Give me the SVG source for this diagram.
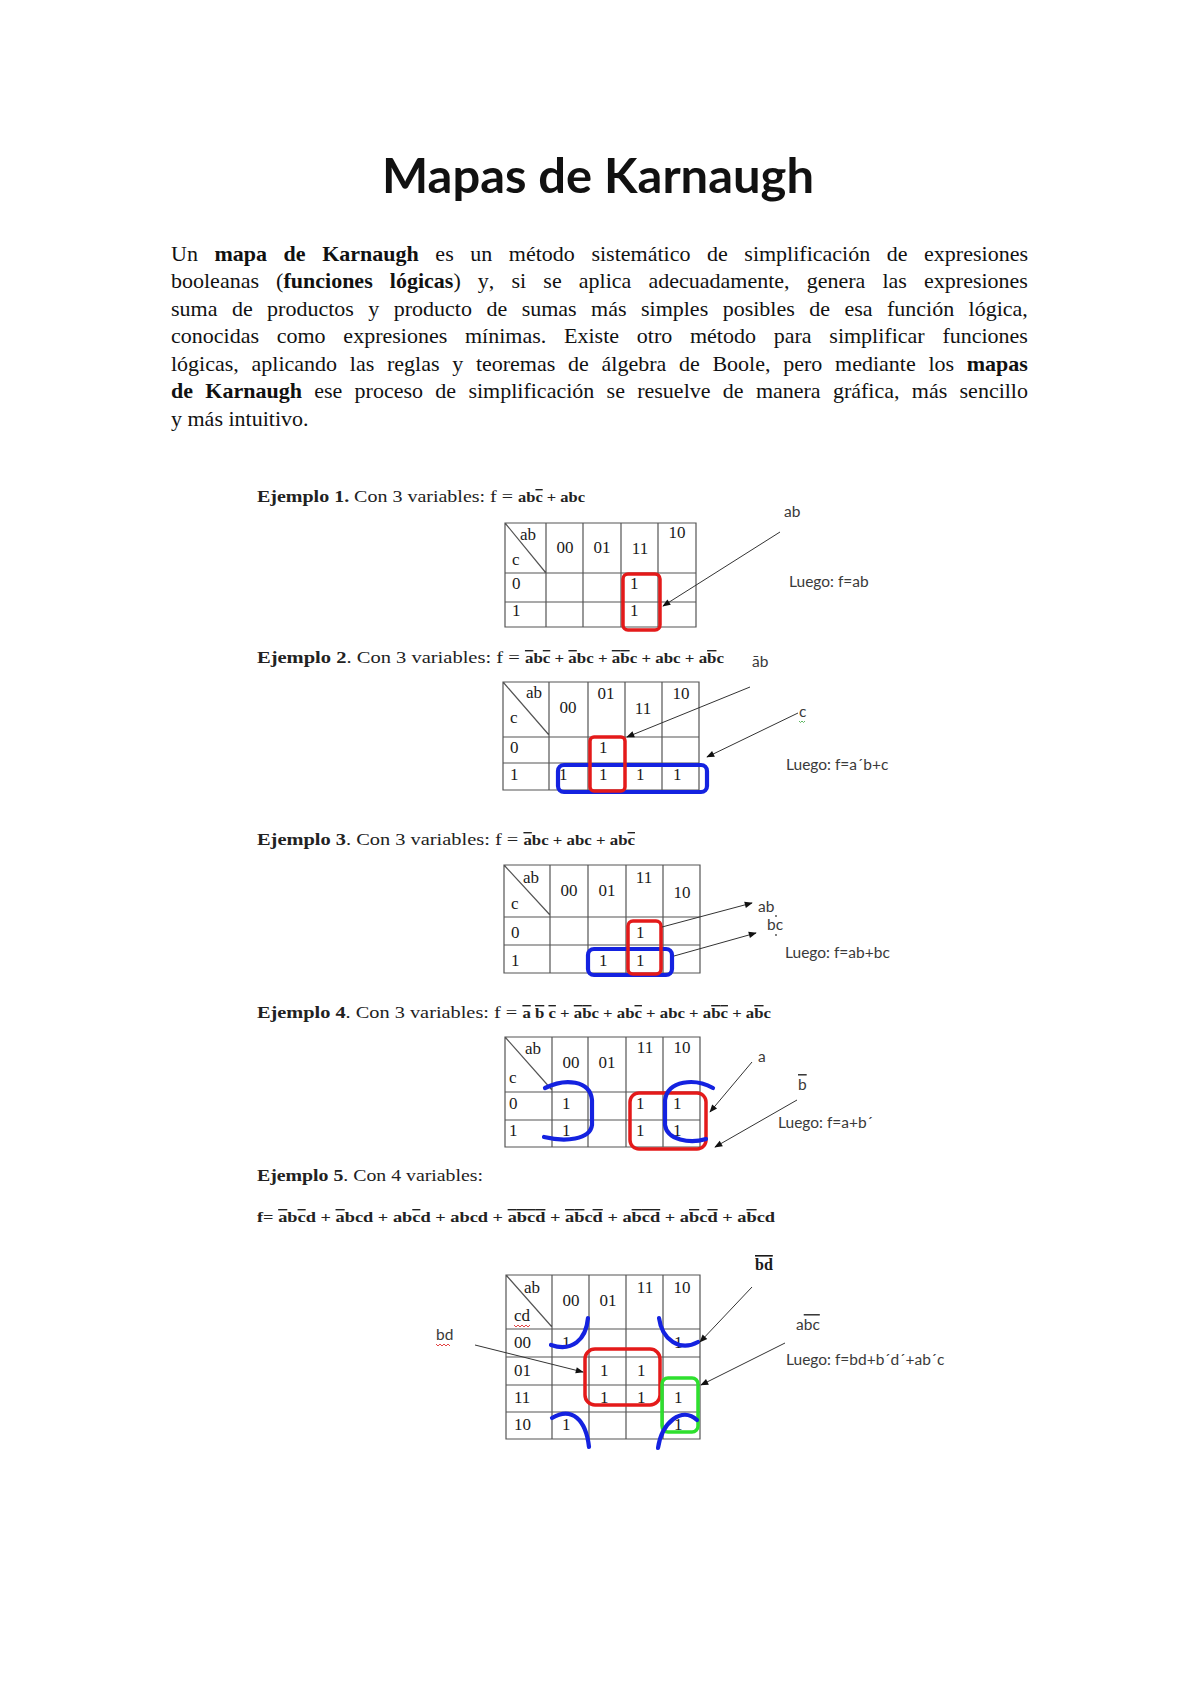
<svg xmlns="http://www.w3.org/2000/svg" width="1200" height="1698" viewBox="0 0 1200 1698">
<defs>
<style>
.p{font-family:"Liberation Serif","Times New Roman",serif;font-size:22px;fill:#111;font-kerning:none;font-variant-ligatures:none}
.b{font-weight:bold}
.h{font-family:"Liberation Serif","Times New Roman",serif;font-size:17px;fill:#222;font-kerning:none}
.fm{font-weight:bold;font-size:14px}
.ov{text-decoration:overline}
.t{font-family:"Liberation Serif","Times New Roman",serif;font-size:17px;fill:#1a1a1a}
.tm{text-anchor:middle}
.lb{font-family:Lato,"Open Sans",sans-serif;font-size:15.5px;fill:#3a3a3a}
.grid{stroke:#555;stroke-width:1.2;fill:none}
.red{fill:none;stroke:#e41a1a;stroke-width:3.5}
.blue{fill:none;stroke:#1422e0;stroke-width:4.2;stroke-linecap:round}
.green{fill:none;stroke:#2ee02e;stroke-width:3.5}
.arr{stroke:#333;stroke-width:1;fill:none;marker-end:url(#ah)}
.sq{fill:none;stroke-width:0.9}
</style>
<marker id="ah" viewBox="0 0 10 10" refX="9" refY="5" markerWidth="9" markerHeight="8" markerUnits="userSpaceOnUse" orient="auto"><path d="M0,1 L10,5 L0,9 z" fill="#111"/></marker>
</defs>
<rect width="1200" height="1698" fill="#fff"/>

<g id="title">
<text x="382" y="193" font-family="Lato,'Open Sans',sans-serif" font-weight="bold" font-size="48" fill="#111" textLength="432" lengthAdjust="spacingAndGlyphs">Mapas de Karnaugh</text>
</g>

<g id="intro">
<text class="p" x="171" y="261" word-spacing="11.08">Un <tspan class="b">mapa de Karnaugh</tspan> es un método sistemático de simplificación de expresiones</text>
<text class="p" x="171" y="288" word-spacing="11.65">booleanas (<tspan class="b">funciones lógicas</tspan>) y, si se aplica adecuadamente, genera las expresiones</text>
<text class="p" x="171" y="316" word-spacing="8.95">suma de productos y producto de sumas más simples posibles de esa función lógica,</text>
<text class="p" x="171" y="343" word-spacing="12.26">conocidas como expresiones mínimas. Existe otro método para simplificar funciones</text>
<text class="p" x="171" y="371" word-spacing="7.22">lógicas, aplicando las reglas y teoremas de álgebra de Boole, pero mediante los <tspan class="b">mapas</tspan></text>
<text class="p" x="171" y="398" word-spacing="6.81"><tspan class="b">de Karnaugh</tspan> ese proceso de simplificación se resuelve de manera gráfica, más sencillo</text>
<text class="p" x="171" y="426">y más intuitivo.</text>
</g>

<g id="ej1-heading">
<text class="h" x="257" y="502" textLength="328" lengthAdjust="spacingAndGlyphs"><tspan class="b">Ejemplo 1.</tspan> Con 3 variables: f = <tspan class="fm">ab<tspan class="ov">c</tspan> + abc</tspan></text>
</g>
<g id="ej2-heading">
<text class="h" x="257" y="663" textLength="467" lengthAdjust="spacingAndGlyphs"><tspan class="b">Ejemplo 2</tspan>. Con 3 variables: f = <tspan class="fm"><tspan class="ov">a</tspan>b<tspan class="ov">c</tspan> + <tspan class="ov">a</tspan>bc + <tspan class="ov">a</tspan><tspan class="ov">b</tspan>c + abc + a<tspan class="ov">b</tspan>c</tspan></text>
</g>
<g id="ej3-heading">
<text class="h" x="257" y="845" textLength="378" lengthAdjust="spacingAndGlyphs"><tspan class="b">Ejemplo 3</tspan>. Con 3 variables: f = <tspan class="fm"><tspan class="ov">a</tspan>bc + abc + ab<tspan class="ov">c</tspan></tspan></text>
</g>
<g id="ej4-heading">
<text class="h" x="257" y="1018" textLength="514" lengthAdjust="spacingAndGlyphs"><tspan class="b">Ejemplo 4</tspan>. Con 3 variables: f = <tspan class="fm"><tspan class="ov">a</tspan> <tspan class="ov">b</tspan> <tspan class="ov">c</tspan> + <tspan class="ov">a</tspan><tspan class="ov">b</tspan>c + ab<tspan class="ov">c</tspan> + abc + a<tspan class="ov">b</tspan><tspan class="ov">c</tspan> + a<tspan class="ov">b</tspan>c</tspan></text>
</g>
<g id="ej5-heading">
<text class="h" x="257" y="1181" textLength="226" lengthAdjust="spacingAndGlyphs"><tspan class="b">Ejemplo 5</tspan>. Con 4 variables:</text>
<text class="h fm" x="257" y="1222" textLength="518" lengthAdjust="spacingAndGlyphs">f= <tspan class="ov">a</tspan>b<tspan class="ov">c</tspan>d + <tspan class="ov">a</tspan>bcd + ab<tspan class="ov">c</tspan>d + abcd + <tspan class="ov">a</tspan><tspan class="ov">b</tspan><tspan class="ov">c</tspan><tspan class="ov">d</tspan> + <tspan class="ov">a</tspan><tspan class="ov">b</tspan>c<tspan class="ov">d</tspan> + a<tspan class="ov">b</tspan><tspan class="ov">c</tspan><tspan class="ov">d</tspan> + a<tspan class="ov">b</tspan>c<tspan class="ov">d</tspan> + a<tspan class="ov">b</tspan>cd</text>
</g>

<!-- Table 1 -->
<g id="kmap1">
<path class="grid" d="M505 523H696V627H505Z M546 523V627 M583 523V627 M621 523V627 M658 523V627 M505 573H696 M505 602H696 M505 523L546 573"/>
<text class="t" x="520" y="540">ab</text>
<text class="t" x="512" y="565">c</text>
<text class="t tm" x="565" y="553">00</text>
<text class="t tm" x="602" y="553">01</text>
<text class="t tm" x="640" y="554">11</text>
<text class="t tm" x="677" y="538">10</text>
<text class="t" x="512" y="589">0</text>
<text class="t" x="512" y="616">1</text>
<text class="t" x="630" y="589">1</text>
<text class="t" x="630" y="616">1</text>
<rect class="red" x="623" y="574" width="37" height="56" rx="5"/>
</g>

<!-- Table 2 -->
<g id="kmap2">
<path class="grid" d="M503 682H699V790H503Z M549 682V790 M588 682V790 M625 682V790 M662 682V790 M503 737H699 M503 763H699 M503 682L549 735"/>
<text class="t" x="526" y="698">ab</text>
<text class="t" x="510" y="723">c</text>
<text class="t tm" x="568" y="713">00</text>
<text class="t tm" x="606" y="699">01</text>
<text class="t tm" x="643" y="714">11</text>
<text class="t tm" x="681" y="699">10</text>
<text class="t" x="510" y="753">0</text>
<text class="t" x="510" y="780">1</text>
<text class="t" x="599" y="753">1</text>
<text class="t" x="559" y="780">1</text>
<text class="t" x="599" y="780">1</text>
<text class="t" x="636" y="780">1</text>
<text class="t" x="673" y="780">1</text>
<rect class="blue" x="558" y="765" width="149" height="27" rx="6"/>
<rect class="red" x="590" y="737" width="35" height="54" rx="4"/>
</g>

<!-- Table 3 -->
<g id="kmap3">
<path class="grid" d="M504 865H700V973H504Z M550 865V973 M588 865V973 M626 865V973 M663 865V973 M504 917H700 M504 945H700 M504 865L550 915"/>
<text class="t" x="523" y="883">ab</text>
<text class="t" x="511" y="909">c</text>
<text class="t tm" x="569" y="896">00</text>
<text class="t tm" x="607" y="896">01</text>
<text class="t tm" x="644" y="883">11</text>
<text class="t tm" x="682" y="898">10</text>
<text class="t" x="511" y="938">0</text>
<text class="t" x="511" y="966">1</text>
<text class="t" x="636" y="938">1</text>
<text class="t" x="599" y="966">1</text>
<text class="t" x="636" y="966">1</text>
<rect class="blue" x="588" y="949" width="84" height="26" rx="6"/>
<rect class="red" x="628" y="921" width="33" height="53" rx="5"/>
</g>

<!-- Table 4 -->
<g id="kmap4">
<path class="grid" d="M505 1037H700V1147H505Z M552 1037V1147 M588 1037V1147 M626 1037V1147 M663 1037V1147 M505 1092H700 M505 1120H700 M505 1037L552 1090"/>
<text class="t" x="525" y="1054">ab</text>
<text class="t" x="509" y="1083">c</text>
<text class="t tm" x="571" y="1068">00</text>
<text class="t tm" x="607" y="1068">01</text>
<text class="t tm" x="645" y="1053">11</text>
<text class="t tm" x="682" y="1053">10</text>
<text class="t" x="509" y="1109">0</text>
<text class="t" x="509" y="1136">1</text>
<text class="t" x="562" y="1109">1</text>
<text class="t" x="562" y="1136">1</text>
<text class="t" x="636" y="1109">1</text>
<text class="t" x="636" y="1136">1</text>
<text class="t" x="673" y="1109">1</text>
<text class="t" x="673" y="1136">1</text>
<rect class="red" x="630" y="1093" width="76" height="56" rx="9"/>
<path class="blue" d="M545 1088 C565 1078 590 1080 592 1100 L592 1125 C590 1140 565 1142 544 1137"/>
<path class="blue" d="M713 1088 C695 1078 668 1080 665 1100 L665 1125 C667 1140 690 1144 706 1139"/>
</g>

<!-- Table 5 -->
<g id="kmap5">
<path class="grid" d="M506 1275H700V1439H506Z M552 1275V1439 M589 1275V1439 M626 1275V1439 M663 1275V1439 M506 1329H700 M506 1357H700 M506 1385H700 M506 1412H700 M506 1275L552 1327"/>
<text class="t" x="524" y="1293">ab</text>
<text class="t" x="514" y="1321">cd</text>
<path class="sq" stroke="#e03030" d="M514 1325 l2 2 l2 -2 l2 2 l2 -2 l2 2 l2 -2 l2 2 l2 -2"/>
<text class="t tm" x="571" y="1306">00</text>
<text class="t tm" x="608" y="1306">01</text>
<text class="t tm" x="645" y="1293">11</text>
<text class="t tm" x="682" y="1293">10</text>
<text class="t" x="514" y="1348">00</text>
<text class="t" x="514" y="1376">01</text>
<text class="t" x="514" y="1403">11</text>
<text class="t" x="514" y="1430">10</text>
<text class="t" x="562" y="1348">1</text>
<text class="t" x="674" y="1348">1</text>
<text class="t" x="600" y="1376">1</text>
<text class="t" x="637" y="1376">1</text>
<text class="t" x="600" y="1403">1</text>
<text class="t" x="637" y="1403">1</text>
<text class="t" x="674" y="1403">1</text>
<text class="t" x="562" y="1430">1</text>
<text class="t" x="674" y="1430">1</text>
<rect class="red" x="585" y="1349" width="75" height="56" rx="10"/>
<rect class="green" x="662" y="1378" width="36" height="54" rx="6"/>
<path class="blue" d="M551 1345 C572 1352 586 1340 588 1318"/>
<path class="blue" d="M659 1318 C662 1340 680 1352 698 1342"/>
<path class="blue" d="M552 1418 C572 1406 586 1420 589 1447"/>
<path class="blue" d="M658 1448 C662 1422 682 1406 697 1420"/>
</g>

<!-- Labels -->
<g id="labels1">
<text class="lb" x="784" y="517">ab</text>
<text class="lb" x="789" y="587">Luego: f=ab</text>
</g>
<g id="labels2">
<text class="lb" x="752" y="667">āb</text>
<text class="lb" x="799" y="717">c</text>
<path class="sq" stroke="#4caf50" d="M799 721 l1.5 1.5 l1.5 -1.5 l1.5 1.5 l1.5 -1.5"/>
<text class="lb" x="786" y="770">Luego: f=a´b+c</text>
</g>
<g id="labels3">
<text class="lb" x="758" y="912">ab</text>
<circle cx="776" cy="916" r="0.9" fill="#444"/>
<text class="lb" x="767" y="930">bc</text>
<circle cx="776" cy="935" r="0.9" fill="#444"/>
<text class="lb" x="785" y="958">Luego: f=ab+bc</text>
</g>
<g id="labels4">
<text class="lb" x="758" y="1062">a</text>
<text class="lb ov" x="798" y="1090">b</text>
<text class="lb" x="778" y="1128">Luego: f=a+b´</text>
</g>
<g id="labels5">
<text class="t b ov" x="755" y="1270" style="font-size:16px">bd</text>
<text class="lb" x="436" y="1340">bd</text>
<path class="sq" stroke="#e03030" d="M436 1344 l2 2 l2 -2 l2 2 l2 -2 l2 2 l2 -2 l2 2"/>
<text class="lb" x="796" y="1330">a<tspan class="ov">bc</tspan></text>
<text class="lb" x="786" y="1365">Luego: f=bd+b´d´+ab´c</text>
</g>

<g id="connectors">
<line class="arr" x1="780" y1="532" x2="663" y2="606"/>
<line class="arr" x1="750" y1="687" x2="627" y2="737"/>
<line class="arr" x1="798" y1="713" x2="707" y2="757"/>
<line class="arr" x1="662" y1="927" x2="752" y2="903"/>
<line class="arr" x1="674" y1="956" x2="756" y2="933"/>
<line class="arr" x1="752" y1="1062" x2="710" y2="1112"/>
<line class="arr" x1="797" y1="1100" x2="715" y2="1147"/>
<line class="arr" x1="475" y1="1345" x2="583" y2="1372"/>
<line class="arr" x1="752" y1="1287" x2="700" y2="1342"/>
<line class="arr" x1="785" y1="1343" x2="701" y2="1385"/>
</g>
</svg>
